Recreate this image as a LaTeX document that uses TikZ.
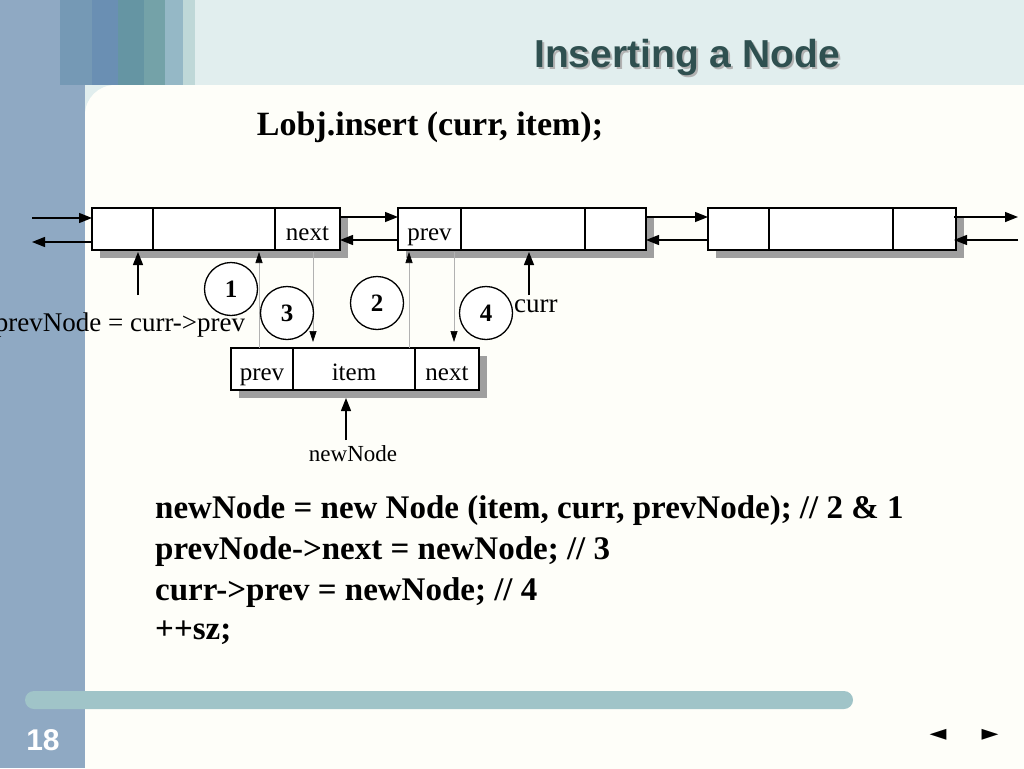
\documentclass[tikz,border=0pt]{standalone}
\usepackage{fontspec}
\setmainfont{Liberation Serif}
\setsansfont{Liberation Sans}
\newfontfamily\symfont{DejaVu Sans}
\usetikzlibrary{arrows.meta}
\definecolor{stripA}{HTML}{8FA9C3}
\definecolor{stripB}{HTML}{7599B5}
\definecolor{stripC}{HTML}{6A8FB3}
\definecolor{stripD}{HTML}{6595A3}
\definecolor{stripE}{HTML}{74A2A8}
\definecolor{stripF}{HTML}{95B8C6}
\definecolor{stripG}{HTML}{BFD8D8}
\definecolor{topbg}{HTML}{E1EEEE}
\definecolor{pagebg}{HTML}{FEFEF9}
\definecolor{barcol}{HTML}{A0C4C8}
\definecolor{titlecol}{HTML}{2F5050}
\tikzset{
  cell/.style={draw,line width=1.8pt,fill=white},
  shade/.style={fill=gray!75},
  link/.style={-{Triangle[length=13pt,width=10pt]},line width=1.4pt},
  thin/.style={draw=gray!60,line width=0.6pt,-{Triangle[length=11pt,width=7pt,color=black]}},
  step num/.style={draw,circle,line width=1.3pt,minimum size=53pt,inner sep=0pt,font=\fontsize{25}{25}\selectfont\bfseries,fill=white},
  label/.style={font=\fontsize{25}{25}\selectfont,inner sep=0pt},
  code/.style={font=\fontsize{33}{35}\selectfont\bfseries,anchor=west,inner sep=0pt}
}
% draws a three-field list node with shadow
\newcommand{\listnode}[7]{%
  \fill[shade] (#1+8,#2+8) rectangle (#1+256,#2+50);
  \draw[cell] (#1,#2) rectangle (#1+248,#2+42);
  \draw[line width=1.8pt] (#1+#3,#2) -- (#1+#3,#2+42) (#1+#4,#2) -- (#1+#4,#2+42);
  \node[label,anchor=base] at (#1+#3/2,#2+32) {#5};
  \node[label,anchor=base] at ({#1+(#3+#4)/2},#2+32) {#6};
  \node[label,anchor=base] at ({#1+(#4+248)/2},#2+32) {#7};
}
\begin{document}
\begin{tikzpicture}[x=1pt,y=-1pt]
  % background
  \useasboundingbox (0,0) rectangle (1024,768);
  \fill[topbg] (0,0) rectangle (1024,768);
  \fill[stripA] (0,0) rectangle (60,768);
  \fill[stripB] (60,0) rectangle (92,85);
  \fill[stripC] (92,0) rectangle (118,85);
  \fill[stripD] (118,0) rectangle (144,85);
  \fill[stripE] (144,0) rectangle (165,85);
  \fill[stripF] (165,0) rectangle (183,85);
  \fill[stripG] (183,0) rectangle (195,85);
  \fill[stripA] (60,85) rectangle (85,768);
  \fill[pagebg,rounded corners=30pt] (85,85) rectangle (1060,800);
  \fill[barcol,rounded corners=9pt] (25,691) rectangle (853,709);
  \node[text=white,font=\sffamily\bfseries\fontsize{30}{30}\selectfont] at (43,740) {18};
  \node[font=\symfont\fontsize{22}{22}\selectfont] at (938,735) {◄};
  \node[font=\symfont\fontsize{22}{22}\selectfont] at (990,735) {►};

  % title
  \node[text=gray!60,font=\sffamily\bfseries\fontsize{39}{39}\selectfont] at (689,60) {Inserting a Node};
  \node[text=titlecol,font=\sffamily\bfseries\fontsize{39}{39}\selectfont] at (687,58) {Inserting a Node};
  \node[font=\fontsize{34}{34}\selectfont\bfseries] (call) at (430,127) {Lobj.insert (curr, item);};

  % list nodes
  \listnode{92}{208}{61}{183}{}{}{next}
  \listnode{398}{208}{63}{187}{prev}{}{}
  \listnode{708}{208}{61}{185}{}{}{}
  \listnode{231}{348}{62}{184}{prev}{item}{next}

  % links between list nodes
  \draw[link] (32,218) -- (92,218);
  \draw[link] (92,242) -- (32,242);
  \draw[link] (340,217) -- (398,217);
  \draw[link] (398,240) -- (340,240);
  \draw[link] (646,217) -- (708,217);
  \draw[link] (708,240) -- (646,240);
  \draw[link] (954,217) -- (1018,217);
  \draw[link] (1018,240) -- (954,240);

  % pointers
  \draw[link] (138,295) -- (138,252);
  \node[label,anchor=center,font=\fontsize{27}{27}\selectfont] (prevnode) at (120,325) {prevNode = curr->prev};
  \draw[link] (529,295) -- (529,252);
  \node[label,anchor=west,font=\fontsize{27}{27}\selectfont] (curr) at (514,306) {curr};
  \draw[link] (346,440) -- (346,398);
  \node[label,font=\fontsize{23}{23}\selectfont] (newnode) at (353,454) {newNode};

  % new links
  \draw[thin] (259,348) -- (259,252);
  \draw[thin] (313,252) -- (313,342);
  \draw[thin] (409,348) -- (409,252);
  \draw[thin] (454,252) -- (454,342);
  \node[step num] (s1) at (231,289) {1};
  \node[step num] (s3) at (287,313) {3};
  \node[step num] (s2) at (377,303) {2};
  \node[step num] (s4) at (486,313) {4};

  % code
  \node[code] at (155,511) {newNode = new Node (item, curr, prevNode); // 2 \& 1};
  \node[code] at (155,552) {prevNode->next = newNode; // 3};
  \node[code] at (155,593) {curr->prev = newNode; // 4};
  \node[code] at (155,633) {++sz;};
\end{tikzpicture}
\end{document}
